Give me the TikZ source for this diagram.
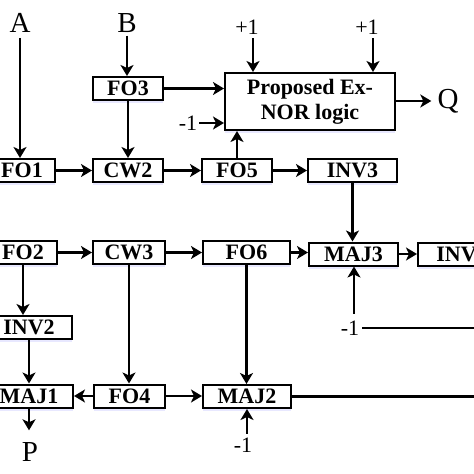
\documentclass[tikz,border=0pt]{standalone}
\usepackage{fontspec}
\setmainfont{Liberation Serif}
\usetikzlibrary{arrows.meta,shadows}
\begin{document}
\begin{tikzpicture}[x=1pt,y=-1pt,
 blk/.style={draw,line width=2pt,fill=white,inner sep=0pt,minimum height=23pt,font=\fontsize{22}{25}\selectfont\bfseries,align=center,
   drop shadow={shadow xshift=0pt,shadow yshift=-3pt,fill=blue!25,opacity=0.35}},
 lbl/.style={inner sep=0pt,font=\fontsize{29}{30}\selectfont},
 num/.style={inner sep=0pt,font=\fontsize{22}{24}\selectfont},
 arr/.style={line width=2.2pt,-{Stealth[length=11pt,width=13pt,inset=3pt]}},
 ln/.style={line width=2.2pt}]
\clip (0,0) rectangle (474,474);
\fill[white] (0,0) rectangle (474,474);
% boxes
\node[blk,minimum width=66pt] (FO1) at (22,170.5) {FO1};
\node[blk,minimum width=70pt] (FO3) at (128,88.5) {FO3};
\node[blk,minimum width=70pt] (CW2) at (128,170.5) {CW2};
\node[blk,minimum width=70pt] (FO5) at (237,170.5) {FO5};
\node[blk,minimum width=89pt] (INV3) at (352.5,170.5) {INV3};
\node[blk,minimum width=170pt,minimum height=57pt] (PEL) at (310,101.5) {Proposed Ex-\\NOR logic};
\node[blk,minimum width=68pt] (FO2) at (23,252.5) {FO2};
\node[blk,minimum width=72pt] (CW3) at (129,252.5) {CW3};
\node[blk,minimum width=87pt] (FO6) at (246.5,252.5) {FO6};
\node[blk,minimum width=89pt] (MAJ3) at (353.5,254) {MAJ3};
\node[blk,minimum width=88pt] (INV4) at (462,254) {INV4};
\node[blk,minimum width=86pt] (INV2) at (29,327.5) {INV2};
\node[blk,minimum width=88pt] (MAJ1) at (29,396) {MAJ1};
\node[blk,minimum width=71pt] (FO4) at (129.5,396) {FO4};
\node[blk,minimum width=88pt] (MAJ2) at (247,396.5) {MAJ2};
% labels
\node[lbl] (A) at (20,23) {A};
\node[lbl] (B) at (127,23) {B};
\node[lbl] (Q) at (448,101) {Q};
\node[lbl] (P) at (30,452) {P};
\node[num] (p1) at (247,27) {+1};
\node[num] (p2) at (367,27) {+1};
\node[num] (m1) at (188,123) {-1};
\node[num] (m2) at (350,328) {-1};
\node[num] (m3) at (243,445) {-1};
% helper coordinates
\coordinate (As) at ([yshift=-5pt]A.south);
\coordinate (Bs) at ([yshift=-3pt]B.south);
\coordinate (p1b) at ([xshift=6pt,yshift=-4pt]p1.south);
\coordinate (p2b) at ([xshift=6pt,yshift=-4pt]p2.south);
\coordinate (m1e) at ([xshift=2pt]m1.east);
\coordinate (Qw) at ([xshift=-6pt]Q.west);
\coordinate (Pn) at ([yshift=12pt]P.north);
\coordinate (m2t) at ([xshift=4pt,yshift=7pt]m2.north);
\coordinate (m2e) at ([xshift=3pt]m2.east);
\coordinate (m3t) at ([xshift=4pt,yshift=4pt]m3.north);
\coordinate (r1) at (480,328);
\coordinate (r2) at (480,396.5);
% connectors
\draw[arr] (As) -- (As |- FO1.north);
\draw[arr] (Bs) -- (Bs |- FO3.north);
\draw[arr] (p1b) -- (p1b |- PEL.north);
\draw[arr] (p2b) -- (p2b |- PEL.north);
\draw[arr] (FO3) -- (FO3 -| PEL.west);
\draw[arr] (m1e) -- (m1e -| PEL.west);
\draw[arr] (FO3) -- (CW2);
\draw[arr] (FO1) -- (CW2);
\draw[arr] (CW2) -- (FO5);
\draw[arr] (FO5) -- (FO5 |- PEL.south);
\draw[arr] (FO5) -- (INV3);
\draw[arr] (PEL.east |- Qw) -- (Qw);
\draw[arr] (INV3.south) -- (INV3.south |- MAJ3.north);
\draw[arr] (FO2) -- (CW3);
\draw[arr] (CW3) -- (FO6);
\draw[arr] (FO6) -- (FO6 -| MAJ3.west);
\draw[arr] (MAJ3) -- (INV4);
\draw[arr] (FO2) -- (FO2 |- INV2.north);
\draw[arr] (INV2) -- (MAJ1);
\draw[arr] (CW3) -- (CW3 |- FO4.north);
\draw[arr] (FO4) -- (MAJ1);
\draw[arr] (FO4) -- (FO4 -| MAJ2.west);
\draw[arr] (FO6) -- (FO6 |- MAJ2.north);
\draw[arr] (MAJ1.south) -- (MAJ1.south |- Pn);
\draw[arr] (m2t) -- (m2t |- MAJ3.south);
\draw[ln] (m2e) -- (r1);
\draw[arr] (m3t) -- (m3t |- MAJ2.south);
\draw[ln] (MAJ2) -- (r2);
\end{tikzpicture}
\end{document}
